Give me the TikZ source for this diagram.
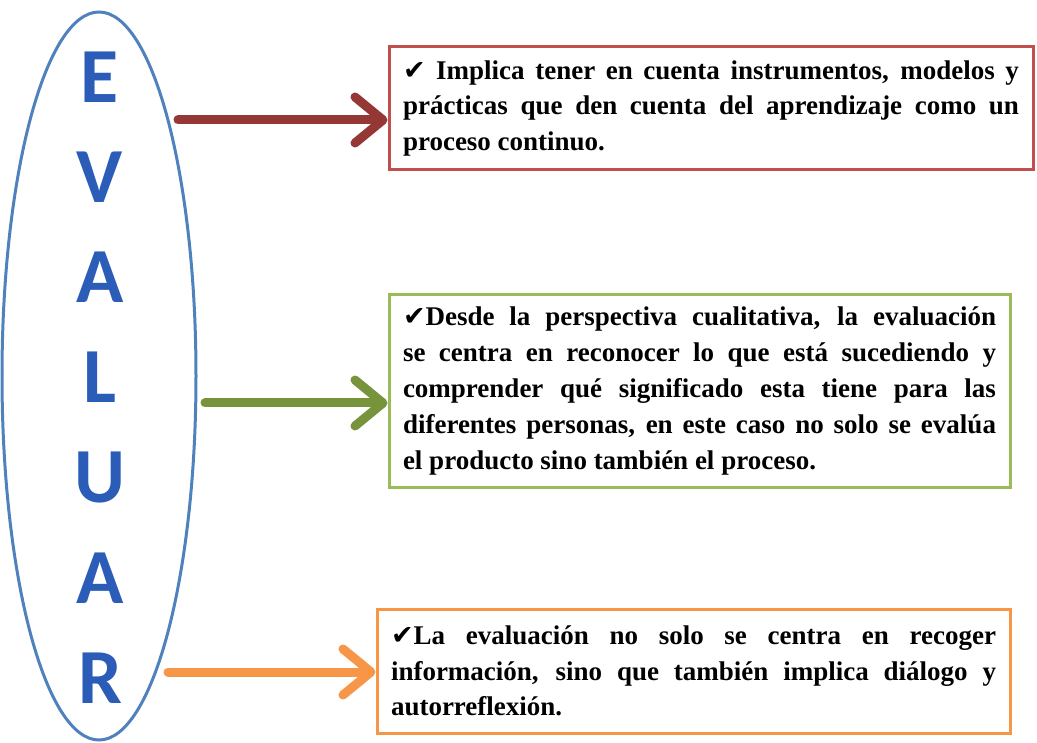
\documentclass[tikz,border=0pt]{standalone}
\usepackage{fontspec}
\setmainfont{Liberation Serif}
\newfontfamily\checkfont{DejaVu Sans}
\newfontfamily\letterfont{Carlito}
\usepackage{tikz}
\usetikzlibrary{arrows.meta,positioning,shapes.geometric}

\definecolor{ellblue}{RGB}{79,129,189}
\definecolor{letblue}{RGB}{42,92,184}
\definecolor{redline}{RGB}{149,55,53}
\definecolor{redbox}{RGB}{192,80,77}
\definecolor{greenline}{RGB}{119,147,60}
\definecolor{greenbox}{RGB}{155,187,89}
\definecolor{orangeline}{RGB}{247,150,70}

\newcommand{\tick}{{\checkfont\fontsize{27}{27}\selectfont\char"2714}}
\hyphenpenalty=10000
\exhyphenpenalty=10000
\tolerance=9999

\begin{document}
\begin{tikzpicture}
      [ x=1pt, y=-1pt,
        letter/.style={inner sep=0pt, text=letblue,
          font=\letterfont\bfseries\fontsize{78}{78}\selectfont},
        textbox/.style={draw, line width=3pt, inner xsep=14pt, inner ysep=4pt,
          align=justify, fill=white,
          font=\bfseries\fontsize{27}{35.8}\selectfont},
        pointer/.style={line width=9pt, line cap=round,
          -{Straight Barb[length=28pt, width=46pt, round]}}
      ]
      \useasboundingbox (0,0) rectangle (1037,743);

      \node[ellipse, draw=ellblue, line width=3pt, inner sep=0pt,
            minimum width=194pt, minimum height=728pt] (frame) at (99,376) {};
      \foreach \l [count=\i] in {E,V,A,L,U,A,R}
        \node[letter] (letter\i) at (100,{77+100.2*(\i-1)}) {\l};

      \node[textbox, draw=redbox, text width=616pt, minimum height=123pt]
            (continuo) at (711,108.5)
            {\tick{} Implica tener en cuenta instrumentos, modelos y pr\'acticas
             que den cuenta del aprendizaje como un proceso continuo.};
      \node[textbox, draw=greenbox, text width=593pt, minimum height=192pt]
            (cualitativa) at (699.5,391)
            {\tick Desde la perspectiva cualitativa, la evaluaci\'on se centra en
             reconocer lo que est\'a sucediendo y comprender qu\'e significado
             esta tiene para las diferentes personas, en este caso no solo se
             eval\'ua\linebreak el producto sino tambi\'en el proceso.};
      \node[textbox, draw=orangeline, text width=605pt, minimum height=124pt]
            (dialogo) at (693.5,671)
            {\tick La evaluaci\'on no solo se centra en recoger informaci\'on,
             sino que tambi\'en implica di\'alogo y autorreflexi\'on.};

      \coordinate (redtail)    at (178,120);
      \coordinate (greentail)  at (205,403);
      \coordinate (orangetail) at (168,672);

      \draw[pointer, redline]    (redtail)    -- (redtail -| continuo.west);
      \draw[pointer, greenline]  (greentail)  -- (greentail -| cualitativa.west);
      \draw[pointer, orangeline] (orangetail) -- (orangetail -| dialogo.west);
\end{tikzpicture}
\end{document}
